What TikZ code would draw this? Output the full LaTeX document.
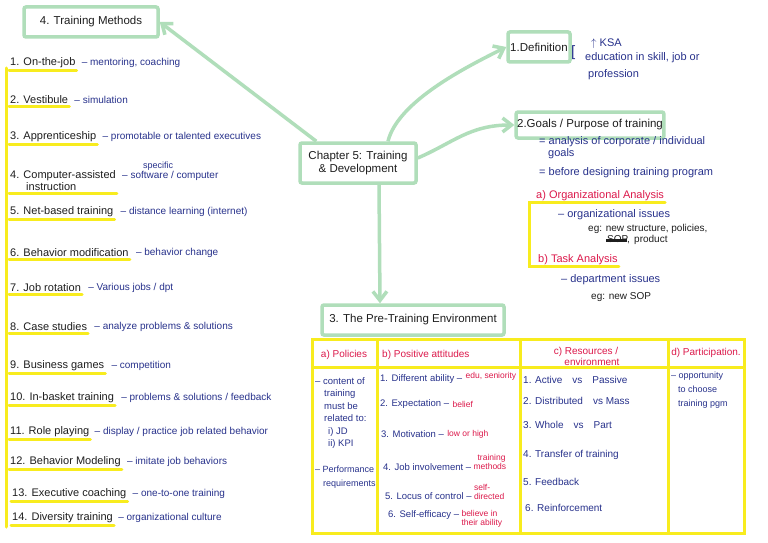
\documentclass[tikz,border=0pt]{standalone}
\usepackage{fontspec}
\setmainfont{Liberation Sans}
\usetikzlibrary{arrows.meta,positioning}
\definecolor{ink}{RGB}{30,30,30}
\definecolor{pen}{RGB}{40,50,140}
\definecolor{redpen}{RGB}{220,25,75}
\definecolor{leaf}{RGB}{176,222,186}
\definecolor{marker}{RGB}{248,236,30}

\begin{document}
\begin{tikzpicture}[x=1pt, y=-1pt,
        gbox/.style={rectangle, rounded corners=2pt, draw=leaf, line width=3.5pt,
                     align=center, inner sep=3pt, text=ink,
                     font=\fontsize{11.5}{12.5}\selectfont},
        topic/.style={anchor=west, inner sep=1pt, align=left, text=ink,
                      font=\fontsize{11}{12}\selectfont},
        note/.style={anchor=west, inner sep=1pt, align=left, text=pen,
                     font=\fontsize{10}{11}\selectfont},
        big/.style={anchor=west, inner sep=1pt, align=left, text=pen,
                    font=\fontsize{11}{12}\selectfont},
        head/.style={inner sep=1pt, align=center, text=redpen,
                     font=\fontsize{10}{11}\selectfont},
        cell/.style={anchor=west, inner sep=1pt, align=left, text=pen,
                     font=\fontsize{9.5}{12.5}\selectfont},
        tiny/.style={anchor=west, inner sep=0pt, align=left, text=redpen,
                     font=\fontsize{8.5}{8.5}\selectfont},
        link/.style={-{Straight Barb[length=9pt, width=14pt]}, line width=3.5pt, leaf},
        hl/.style={marker, line width=3pt, line cap=round},
        grid/.style={marker, line width=3pt}]
    \fill[white] (0,0) rectangle (768,543);
    \useasboundingbox (0,0) rectangle (768,543);

    % main boxes
    \node[gbox, minimum width=134pt, minimum height=30pt] (methods) at (91,22) {4. Training Methods};
    \node[gbox, minimum width=116pt, minimum height=40pt] (chap) at (358,163) {Chapter 5: Training\\\& Development};
    \node[gbox, minimum width=62pt, minimum height=30pt, inner sep=1pt] (defn) at (539,47) {1.Definition};
    \node[gbox, minimum width=144pt, minimum height=26pt, inner sep=1pt] (goals) at (590,125) {2.Goals / Purpose of training};
    \node[gbox, minimum width=182pt, minimum height=30pt] (pretrain) at (413,320) {3. The Pre-Training Environment};

    \draw[link] ([xshift=18pt]chap.north west) -- (methods.east);
    \draw[link] ([xshift=30pt]chap.north) .. controls +(10,-40) and +(-40,20) .. (defn.west);
    \draw[link] ([yshift=5pt]chap.east) .. controls +(35,-15) and +(-45,0) .. (goals.west);
    \draw[link] ([xshift=21pt]chap.south) -- ([xshift=-33pt]pretrain.north);

    % training methods
    \node[topic] (m1) at (9,63) {1. On-the-job};
    \node[note, right=4pt of m1] (m1n) {– mentoring, coaching};
    \node[topic] (m2) at (9,100) {2. Vestibule};
    \node[note, right=4pt of m2] (m2n) {– simulation};
    \node[topic] (m3) at (9,137) {3. Apprenticeship};
    \node[note, right=4pt of m3] (m3n) {– promotable or talented executives};
    \node[topic] (m4) at (9,181) {4. Computer-assisted\\\hspace*{16pt}instruction};
    \node[note] (m4n) at (121,176) {– software / computer};
    \node[note, font=\fontsize{9}{10}\selectfont] (m4s) at (142,166) {specific};
    \node[topic] (m5) at (9,212) {5. Net-based training};
    \node[note, right=5pt of m5] (m5n) {– distance learning (internet)};
    \node[topic] (m6) at (9,253) {6. Behavior modification};
    \node[note, right=5pt of m6] (m6n) {– behavior change};
    \node[topic] (m7) at (9,288) {7. Job rotation};
    \node[note, right=5pt of m7] (m7n) {– Various jobs / dpt};
    \node[topic] (m8) at (9,327) {8. Case studies};
    \node[note, right=5pt of m8] (m8n) {– analyze problems \& solutions};
    \node[topic] (m9) at (9,366) {9. Business games};
    \node[note, right=5pt of m9] (m9n) {– competition};
    \node[topic] (m10) at (9,398) {10. In-basket training};
    \node[note, right=5pt of m10] (m10n) {– problems \& solutions / feedback};
    \node[topic] (m11) at (9,432) {11. Role playing};
    \node[note, right=3pt of m11] (m11n) {– display / practice job related behavior};
    \node[topic] (m12) at (9,462) {12. Behavior Modeling};
    \node[note, right=4pt of m12] (m12n) {– imitate job behaviors};
    \node[topic] (m13) at (11,494) {13. Executive coaching};
    \node[note, right=4pt of m13] (m13n) {– one-to-one training};
    \node[topic] (m14) at (11,518) {14. Diversity training};
    \node[note, right=3pt of m14] (m14n) {– organizational culture};

    \draw[hl] (6,68) -- (6,527);
    \foreach \m in {m1,m2,m3,m4,m5,m6,m7,m8,m9,m10,m11,m12,m13,m14}
        \draw[hl] ([yshift=-1pt]\m.south west) -- ([yshift=-1pt]\m.south east);

    % definition
    \node[big, font=\fontsize{15}{15}\selectfont] (brk) at (570,53) {[};
    \node[big] (ksa) at (590,44) {$\uparrow$ KSA};
    \node[big, anchor=north west, font=\fontsize{11}{17}\selectfont] (edu) at (584,51) {education in skill, job or\\\hspace*{3pt}profession};

    % goals
    \node[big] (g1) at (538,148) {= analysis of corporate / individual\\\hspace*{9pt}goals};
    \node[big] (g2) at (538,173) {= before designing training program};
    \node[big, text=redpen] (oa) at (535,196) {a) Organizational Analysis};
    \node[big] (oa1) at (557,215) {– organizational issues};
    \node[big, text=ink, font=\fontsize{10}{11}\selectfont] (oa2) at (587,229) {eg: new structure, policies,};
    \node[big, text=ink, font=\fontsize{10}{11}\selectfont] (sop) at (606,240) {SOP,};
    \node[big, text=ink, font=\fontsize{10}{11}\selectfont, right=2pt of sop] (prod) {product};
    \draw[ink, line width=3pt] (sop.west) -- ([xshift=-4pt]sop.east);
    \node[big, text=redpen] (ta) at (537,260) {b) Task Analysis};
    \node[big] (ta1) at (560,280) {– department issues};
    \node[big, text=ink, font=\fontsize{10}{11}\selectfont] (ta2) at (590,297) {eg: new SOP};
    \draw[hl] (oa.south east) -- ([xshift=-6pt]oa.south west) |- (ta.south east);

    % pre-training table
    \draw[grid] (312,339) rectangle (744,533);
    \draw[grid] (312,367) -- (744,367);
    \draw[grid] (377,339) -- (377,533);
    \draw[grid] (520,339) -- (520,533);
    \draw[grid] (668,339) -- (668,533);

    \node[head] (ha) at (344,355) {a) Policies};
    \node[head, anchor=west] (hb) at (381,355) {b) Positive attitudes};
    \node[head] (hc) at (586,356) {c) Resources /\\\hspace*{12pt}environment};
    \node[head] (hd) at (706,353) {d) Participation.};

    \node[cell, anchor=north west] (pa) at (314,376) {– content of\\\hspace*{9pt}training\\\hspace*{9pt}must be\\\hspace*{9pt}related to:\\\hspace*{13pt}i) JD\\\hspace*{13pt}ii) KPI};
    \node[cell, anchor=north west, font=\fontsize{9}{14}\selectfont] (pb) at (314,465) {– Performance\\\hspace*{8pt}requirements};

    \node[cell] (b1) at (379,379) {1. Different ability –};
    \node[tiny, right=2pt of b1, yshift=3pt] (b1r) {edu, seniority};
    \node[cell] (b2) at (379,404) {2. Expectation –};
    \node[tiny, right=2pt of b2] (b2r) {belief};
    \node[cell] (b3) at (380,434) {3. Motivation –};
    \node[tiny, right=2pt of b3] (b3r) {low or high};
    \node[cell] (b4) at (382,467) {4. Job involvement –};
    \node[tiny, right=1pt of b4, yshift=5pt] (b4r) {\hspace*{4pt}training\\methods};
    \node[cell] (b5) at (384,496) {5. Locus of control –};
    \node[tiny, right=1pt of b5, yshift=4pt] (b5r) {self-\\directed};
    \node[cell] (b6) at (387,515) {6. Self-efficacy –};
    \node[tiny, right=1pt of b6, yshift=-4pt] (b6r) {believe in\\their ability};

    \node[cell, font=\fontsize{10}{11}\selectfont] (c1) at (522,380) {1. Active\quad vs\quad Passive};
    \node[cell, font=\fontsize{10}{11}\selectfont] (c2) at (522,401) {2. Distributed\quad vs Mass};
    \node[cell, font=\fontsize{10}{11}\selectfont] (c3) at (522,425) {3. Whole\quad vs\quad Part};
    \node[cell, font=\fontsize{10}{11}\selectfont] (c4) at (522,455) {4. Transfer of training};
    \node[cell, font=\fontsize{10}{11}\selectfont] (c5) at (522,482) {5. Feedback};
    \node[cell, font=\fontsize{10}{11}\selectfont] (c6) at (524,508) {6. Reinforcement};

    \node[cell, anchor=north west, font=\fontsize{9}{14}\selectfont] (d1) at (670,371) {– opportunity\\\hspace*{7pt}to choose\\\hspace*{7pt}training pgm};
\end{tikzpicture}
\end{document}
